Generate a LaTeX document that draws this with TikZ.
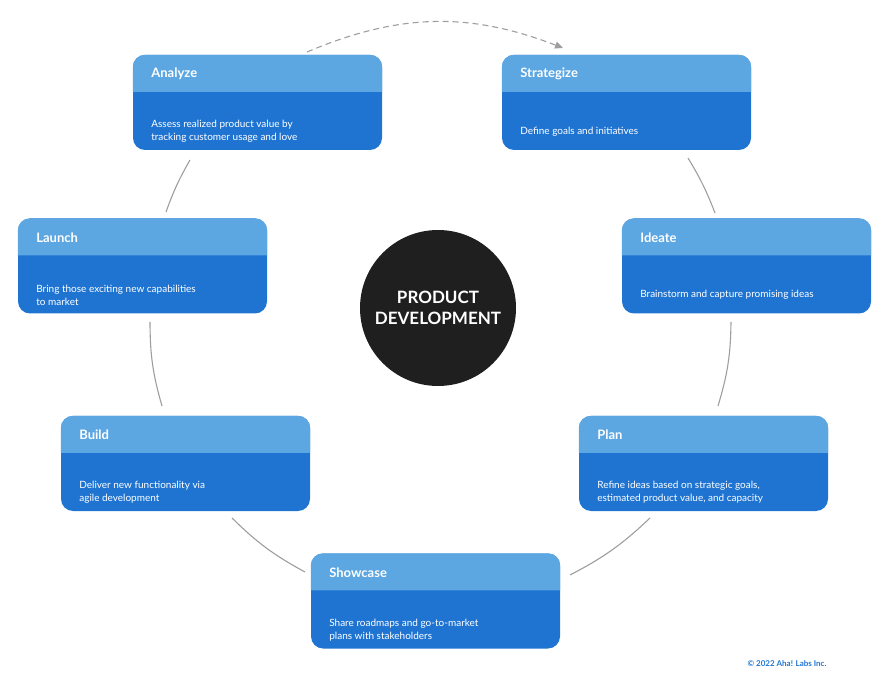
\documentclass[tikz,border=0pt]{standalone}
\usepackage{fontspec}
\setmainfont{Lato}
\usetikzlibrary{positioning,arrows.meta}
\definecolor{headblue}{HTML}{5CA6E2}
\definecolor{bodyblue}{HTML}{1F74D2}
\definecolor{ringgray}{HTML}{9E9E9E}
\tikzset{
  step box/.style={fill=bodyblue, rounded corners=12pt, minimum width=249pt, minimum height=95pt, inner sep=0pt},
  step title/.style={text=white, font=\bfseries\fontsize{13}{15}\selectfont, anchor=west},
  step text/.style={text=white, font=\fontsize{10}{13}\selectfont, anchor=west, align=left},
  ring/.style={draw=ringgray, line width=1.1pt}
}
\newcommand{\stepbox}[5]{% name, x, y, title, text
  \node[step box] (#1) at (#2,#3) {};
  \fill[headblue] ([yshift=-37pt]#1.north west) [rounded corners=12pt] -- (#1.north west) -- (#1.north east) [sharp corners] -- ([yshift=-37pt]#1.north east) -- cycle;
  \node[step title] (#1 title) at ([xshift=15pt,yshift=-19pt]#1.north west) {#4};
  \node[step text] (#1 text) at ([xshift=15pt,yshift=-29pt]#1.west) {#5};
}
\begin{document}
\begin{tikzpicture}[x=1pt,y=-1pt]
  \useasboundingbox (0,0) rectangle (887,676);
  % the seven steps
  \stepbox{analyze}{257.5}{102.5}{Analyze}{Assess realized product value by\\tracking customer usage and love}
  \stepbox{strategize}{626.5}{102.5}{Strategize}{Define goals and initiatives}
  \stepbox{launch}{142.5}{266}{Launch}{Bring those exciting new capabilities\\to market}
  \stepbox{ideate}{746.5}{266}{Ideate}{Brainstorm and capture promising ideas}
  \stepbox{build}{185.5}{463.5}{Build}{Deliver new functionality via\\agile development}
  \stepbox{plan}{703.5}{463.5}{Plan}{Refine ideas based on strategic goals,\\estimated product value, and capacity}
  \stepbox{showcase}{435.5}{601}{Showcase}{Share roadmaps and go-to-market\\plans with stakeholders}
  % centre
  \node[circle, fill=black!88, minimum size=156pt, text=white, align=center,
    font=\bfseries\fontsize{17}{21}\selectfont] (core) at (438,308) {PRODUCT\\DEVELOPMENT};
  % ring pieces
  \coordinate (r1a) at (190,160); \coordinate (r1b) at (166,212);
  \coordinate (r2a) at (150,322); \coordinate (r2b) at (162,406);
  \coordinate (r3a) at (232,518); \coordinate (r3b) at (305,572);
  \coordinate (r4a) at (570,575); \coordinate (r4b) at (650,518);
  \coordinate (r5a) at (718,406); \coordinate (r5b) at (731,322);
  \coordinate (r6a) at (688,158); \coordinate (r6b) at (715,213);
  \draw[ring] (r1a) to[bend right=5] (r1b);
  \draw[ring] (r2a) to[bend right=8] (r2b);
  \draw[ring] (r3a) to[bend right=8] (r3b);
  \draw[ring] (r4a) to[bend right=8] (r4b);
  \draw[ring] (r5a) to[bend right=8] (r5b);
  \draw[ring] (r6a) to[bend left=5] (r6b);
  % loop back
  \coordinate (loop a) at (307,52); \coordinate (loop b) at (563,48);
  \draw[ring, dashed, dash pattern=on 6pt off 4pt, -{Triangle[length=8pt,width=7pt]}] (loop a) to[bend left=22] (loop b);
  \node[text=bodyblue, font=\bfseries\fontsize{8}{10}\selectfont] (copy) at (787,664) {© 2022 Aha! Labs Inc.};
\end{tikzpicture}
\end{document}
